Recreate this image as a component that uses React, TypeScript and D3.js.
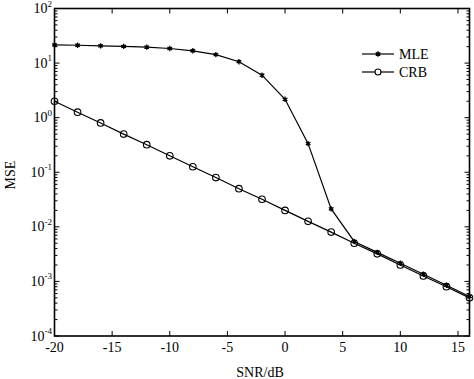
import React from "react";
import * as d3 from "d3";

const snr = [-20, -18, -16, -14, -12, -10, -8, -6, -4, -2, 0, 2, 4, 6, 8, 10, 12, 14, 16];
const mle = [21.5, 21.2, 20.7, 20.2, 19.6, 18.5, 16.8, 14.3, 10.6, 6.0, 2.17, 0.334, 0.0213, 0.0054, 0.0034, 0.00215, 0.00135, 0.00085, 0.00053];
const crb = [2.0, 1.26, 0.8, 0.5, 0.32, 0.2, 0.126, 0.08, 0.05, 0.032, 0.02, 0.0126, 0.008, 0.005, 0.0032, 0.002, 0.00126, 0.0008, 0.0005];
const xTicks = [-20, -15, -10, -5, 0, 5, 10, 15];
const yExps = [2, 1, 0, -1, -2, -3, -4];

export default function App() {
  const W = 474, H = 379;
  const left = 54.5, right = 469.5, top = 8.5, bottom = 336;
  const x = d3.scaleLinear().domain([-20, 16]).range([left, right]);
  const y = d3.scaleLog().domain([1e-4, 1e2]).range([bottom, top]);
  const font = "'Liberation Serif', 'Times New Roman', serif";

  const line = d3.line<number>().x((_, i) => x(snr[i])).y((d) => y(d));
  const star = d3.symbol().type(d3.symbolAsterisk).size(20);

  const minors: number[] = [];
  for (let e = -4; e < 2; e++) for (let m = 2; m <= 9; m++) minors.push(m * Math.pow(10, e));

  const StarMark = ({ cx, cy }: { cx: number; cy: number }) => (
    <g transform={`translate(${cx},${cy})`}>
      <path d={star() as string} fill="none" stroke="#000" strokeWidth={1.3} />
      <rect x={-1.5} y={-1.5} width={3} height={3} fill="#000" />
    </g>
  );

  return (
    <svg width={W} height={H} style={{ position: "absolute", left: 0, top: 0, background: "#fff" }} fontFamily={font}>
      <rect x={0} y={0} width={W} height={H} fill="#fff" />
      <g stroke="#000" strokeWidth={1}>
        {xTicks.map((t) => (
          <g key={"xt" + t}>
            <line x1={x(t)} x2={x(t)} y1={bottom} y2={bottom - 5} />
            <line x1={x(t)} x2={x(t)} y1={top} y2={top + 5} />
          </g>
        ))}
        {yExps.map((e) => (
          <g key={"yt" + e}>
            <line x1={left} x2={left + 5} y1={y(Math.pow(10, e))} y2={y(Math.pow(10, e))} />
            <line x1={right} x2={right - 5} y1={y(Math.pow(10, e))} y2={y(Math.pow(10, e))} />
          </g>
        ))}
        {minors.map((v, i) => (
          <g key={"ym" + i}>
            <line x1={left} x2={left + 3} y1={y(v)} y2={y(v)} />
            <line x1={right} x2={right - 3} y1={y(v)} y2={y(v)} />
          </g>
        ))}
      </g>
      <rect x={left} y={top} width={right - left} height={bottom - top} fill="none" stroke="#000" strokeWidth={1.6} />
      {xTicks.map((t) => (
        <text key={"xl" + t} x={x(t)} y={352} textAnchor="middle" fontSize={14} fill="#000">
          {t}
        </text>
      ))}
      {yExps.map((e) => (
        <text key={"yl" + e} x={52} y={y(Math.pow(10, e)) + 4.5} textAnchor="end" fontSize={14} fill="#000">
          <tspan>10</tspan>
          <tspan fontSize={9} dy={-6.5}>{e}</tspan>
        </text>
      ))}
      <text x={260} y={377} textAnchor="middle" fontSize={14} fill="#000">SNR/dB</text>
      <text transform={`translate(15,175) rotate(-90)`} textAnchor="middle" fontSize={14} fill="#000">MSE</text>
      <path d={line(crb) as string} fill="none" stroke="#000" strokeWidth={1.2} />
      <path d={line(mle) as string} fill="none" stroke="#000" strokeWidth={1.2} />
      {crb.map((v, i) => (
        <circle key={"c" + i} cx={x(snr[i])} cy={y(v)} r={3.3} fill="none" stroke="#000" strokeWidth={1.1} />
      ))}
      {mle.map((v, i) => (
        <StarMark key={"m" + i} cx={x(snr[i])} cy={y(v)} />
      ))}
      <line x1={362} x2={394} y1={54} y2={54} stroke="#000" strokeWidth={1.2} />
      <StarMark cx={378} cy={54} />
      <text x={399} y={59} fontSize={14} fill="#000">MLE</text>
      <line x1={362} x2={394} y1={72} y2={72} stroke="#000" strokeWidth={1.2} />
      <circle cx={378} cy={72} r={3} fill="#fff" stroke="#000" strokeWidth={1.1} />
      <text x={399} y={77} fontSize={14} fill="#000">CRB</text>
    </svg>
  );
}
